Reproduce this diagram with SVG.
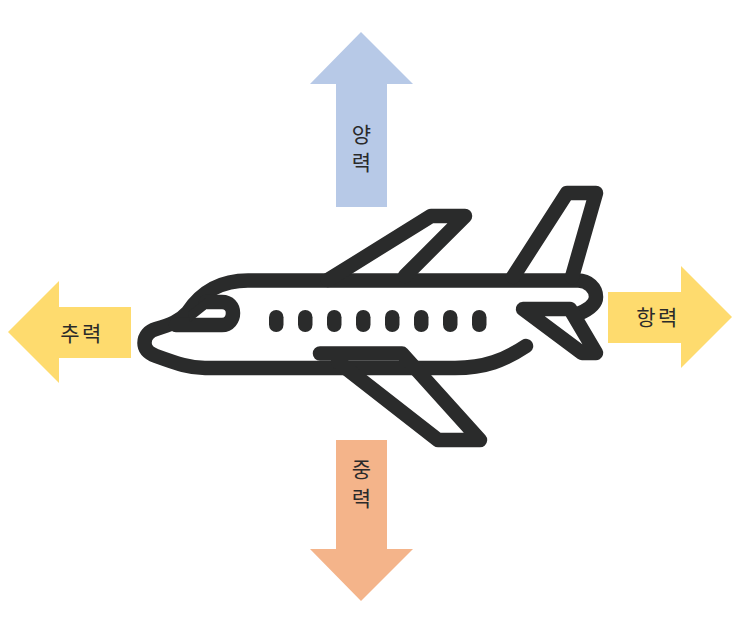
<svg xmlns="http://www.w3.org/2000/svg" width="743" height="627" viewBox="0 0 743 627">
<style>
.t{font-family:"Noto Sans CJK KR","Noto Sans",sans-serif;font-size:21px;fill:#2a2a2a;text-anchor:middle}
.h{letter-spacing:2.500px}
.p{fill:none;stroke:#2a2b2b;stroke-width:14.5;stroke-linecap:round;stroke-linejoin:round}
.w{fill:#2a2b2b}
</style>
<rect width="743" height="627" fill="#fff"/>
<g id="lift"><polygon points="361,32 413,84 387,84 387,207 336,207 336,84 310,84" fill="#b7c9e7"/><text class="t" x="361.500" y="142">양</text><text class="t" x="361.500" y="170">력</text></g>
<g id="gravity"><polygon points="336,440 387,440 387,549 413,549 361,601 310,549 336,549" fill="#f4b48a"/><text class="t" x="361.500" y="477">중</text><text class="t" x="361.500" y="506">력</text></g>
<g id="thrust"><polygon points="8,332 59,281 59,307 131,307 131,358 59,358 59,383" fill="#fedb6e"/><text class="t h" x="82" y="341">추력</text></g>
<g id="drag"><polygon points="608,292 681,292 681,266 732,317 681,368 681,343 608,343" fill="#fedb6e"/><text class="t h" x="658" y="325">항력</text></g>
<g id="airplane">
<path class="p" d="M526,346 C505,360 485,368 455,368 L205,368 C190,368 178,364 156,356 C148,353 144.500,349 144.500,343 C144.500,336 149,331 156,329 C170,325 180,321 188,312 C200,294 218,280.500 248,280.500 L578,280.500 C588,280.500 596,288 596,297 C596,304 590,309 578,314"/>
<path class="p" d="M328,280 L431,216 L465,216 L405,276"/>
<path class="p" d="M513,277 L567,193 L596,193 L572,277"/>
<path class="p" d="M320,353.500 L402,353.500 L480,440 L438,440 L338,362"/>
<path class="p" d="M523,309 L570,309 L596,353 L582,353 Z"/>
<path class="p" d="M176,325 L222,325 C229,325 233,319 233,313 C233,307 229,302 222,302 L206,302"/>
<polygon class="w" points="188,312 206,298 206,309.500 196,317.500 190,322"/>
<g class="w"><rect x="269" y="310" width="14.500" height="22" rx="7.200"/><rect x="298" y="310" width="14.500" height="22" rx="7.200"/><rect x="327" y="310" width="14.500" height="22" rx="7.200"/><rect x="356" y="310" width="14.500" height="22" rx="7.200"/><rect x="385" y="310" width="14.500" height="22" rx="7.200"/><rect x="414" y="310" width="14.500" height="22" rx="7.200"/><rect x="443" y="310" width="14.500" height="22" rx="7.200"/><rect x="472" y="310" width="14.500" height="22" rx="7.200"/></g>
</g>
</svg>
